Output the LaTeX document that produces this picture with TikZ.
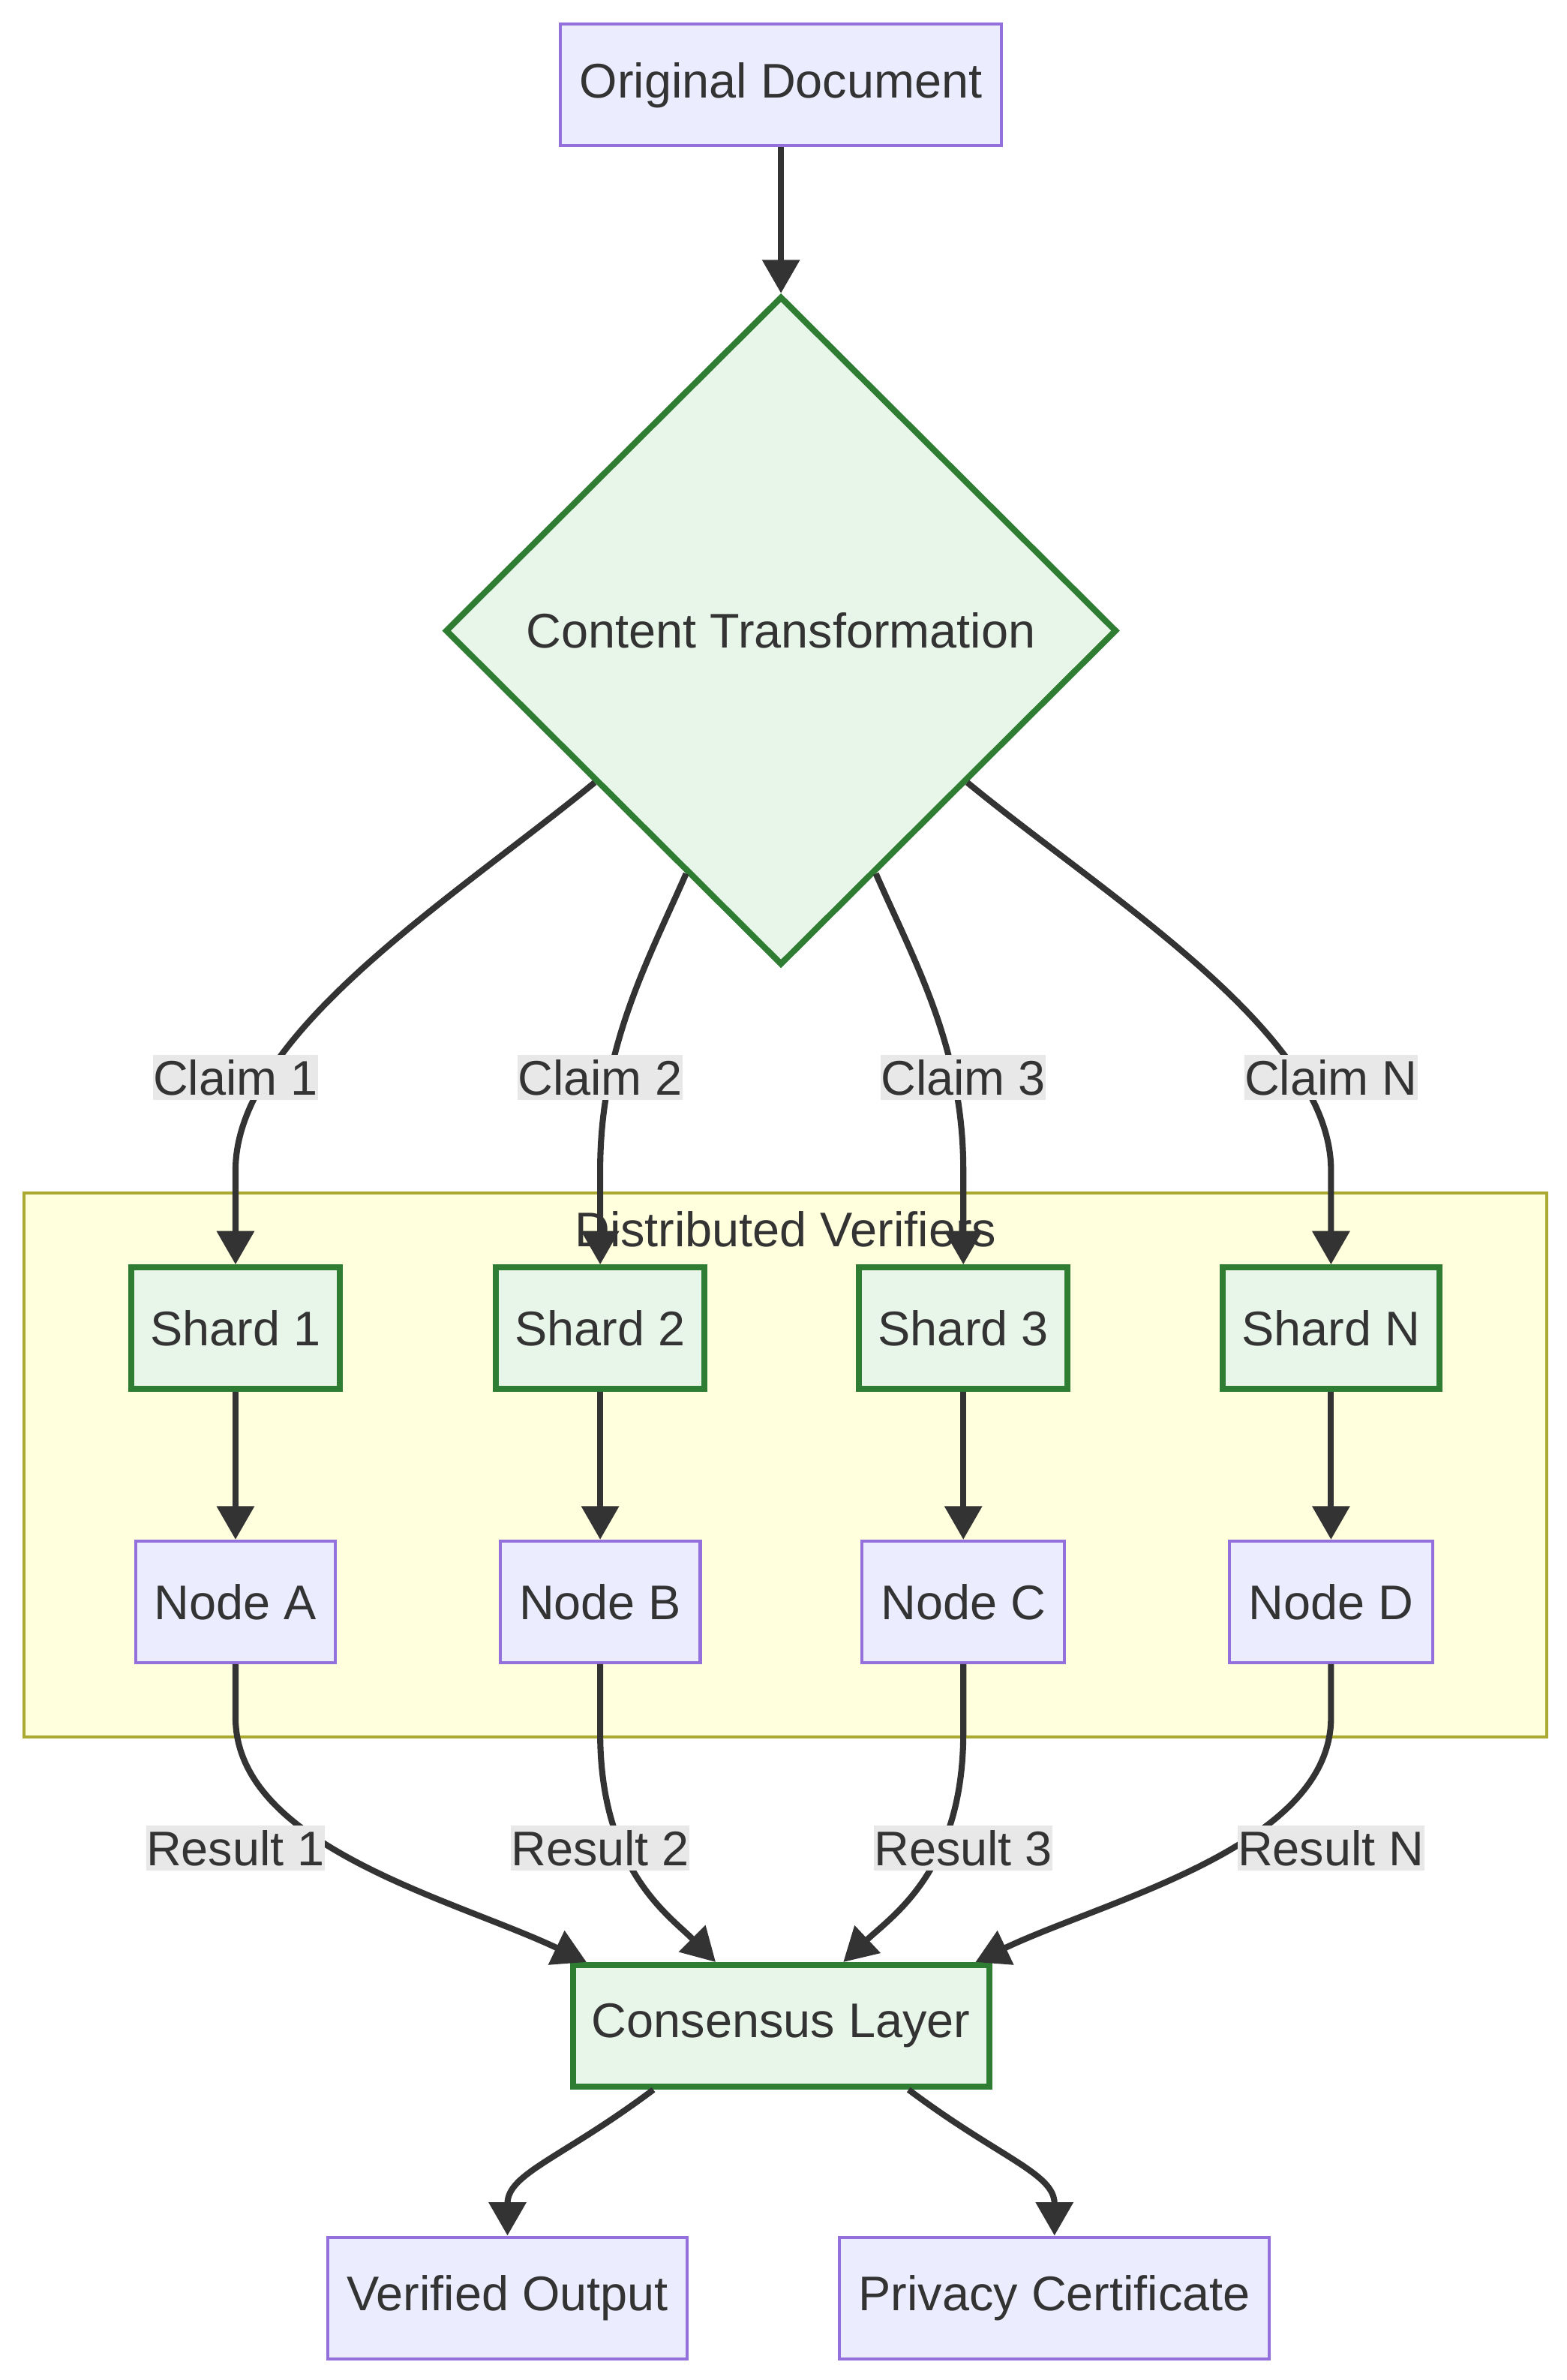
\documentclass[tikz,border=0pt]{standalone}
\usepackage{fontspec}
\setmainfont{Liberation Sans}
\usetikzlibrary{shapes.geometric,arrows.meta,calc}
\definecolor{purplefill}{HTML}{ECECFF}
\definecolor{purpleline}{HTML}{9370DB}
\definecolor{greenfill}{HTML}{E8F5E9}
\definecolor{greenline}{HTML}{2E7D32}
\definecolor{clusterfill}{HTML}{FFFFDE}
\definecolor{clusterline}{HTML}{AAAA33}
\definecolor{ink}{HTML}{333333}
\definecolor{lblgray}{HTML}{E8E8E8}
\begin{document}
\begin{tikzpicture}[x=0.5pt, y=-0.5pt,
  every node/.style={font=\fontsize{16}{19}\selectfont, text=ink},
  basebox/.style={draw=purpleline, fill=purplefill, line width=1pt, minimum height=40pt, inner xsep=6.25pt, inner ysep=0pt},
  shardbox/.style={draw=greenline, fill=greenfill, line width=2pt, minimum height=40pt, inner xsep=6.25pt, inner ysep=0pt},
  lbl/.style={fill=lblgray, inner xsep=0pt, inner ysep=1.5pt},
  flow/.style={draw=ink, line width=2pt, -{Triangle[length=11pt,width=12pt]}}]
\useasboundingbox (0,0) rectangle (1031,1566);
\draw[draw=clusterline, fill=clusterfill, line width=1pt] (16,785) rectangle (1018,1143);
\node (vtitle) at (517,809) {Distributed Verifiers};

\node[basebox] (doc) at (514,56) {Original Document};
\node[diamond, aspect=1, draw=greenline, fill=greenfill, line width=2pt, minimum width=221pt, minimum height=220pt, inner sep=0pt] (trans) at (514,415) {Content Transformation};
\node[shardbox] (shard1) at (155,874) {Shard 1};
\node[shardbox] (shard2) at (395,874) {Shard 2};
\node[shardbox] (shard3) at (634,874) {Shard 3};
\node[shardbox] (shardN) at (876,874) {Shard N};
\node[basebox] (nodeA) at (155,1054) {Node A};
\node[basebox] (nodeB) at (395,1054) {Node B};
\node[basebox] (nodeC) at (634,1054) {Node C};
\node[basebox] (nodeD) at (876,1054) {Node D};
\node[shardbox] (cons) at (514,1333) {Consensus Layer};
\node[basebox] (out) at (334,1512) {Verified Output};
\node[basebox] (cert) at (694,1512) {Privacy Certificate};

\draw[flow] (doc) -- (trans);
\draw[flow] ($(trans.west)!0.45!(trans.south)$) .. controls (300,590) and (155,680) .. (155,770) -- (shard1.north);
\draw[flow] ($(trans.west)!0.72!(trans.south)$) .. controls (425,635) and (395,690) .. (395,770) -- (shard2.north);
\draw[flow] ($(trans.east)!0.72!(trans.south)$) .. controls (603,635) and (634,690) .. (634,770) -- (shard3.north);
\draw[flow] ($(trans.east)!0.45!(trans.south)$) .. controls (728,590) and (876,680) .. (876,770) -- (shardN.north);
\draw[flow] (shard1) -- (nodeA);
\draw[flow] (shard2) -- (nodeB);
\draw[flow] (shard3) -- (nodeC);
\draw[flow] (shardN) -- (nodeD);
\draw[flow] (nodeA.south) -- (155,1130) .. controls (155,1215) and (300,1250) .. ($(cons.north)+(-128,0)$);
\draw[flow] (nodeB.south) -- (395,1140) .. controls (395,1230) and (440,1260) .. ($(cons.north)+(-43,0)$);
\draw[flow] (nodeC.south) -- (634,1140) .. controls (634,1230) and (588,1260) .. ($(cons.north)+(41,0)$);
\draw[flow] (nodeD.south) -- (876,1130) .. controls (876,1215) and (728,1250) .. ($(cons.north)+(128,0)$);
\draw[flow] ($(cons.south)+(-84,0)$) .. controls (370,1420) and (334,1430) .. (out.north);
\draw[flow] ($(cons.south)+(84,0)$) .. controls (658,1420) and (694,1430) .. (cert.north);

\node[lbl] (claim1) at (155,709) {Claim 1};
\node[lbl] (claim2) at (395,709) {Claim 2};
\node[lbl] (claim3) at (634,709) {Claim 3};
\node[lbl] (claimN) at (876,709) {Claim N};
\node[lbl] (result1) at (155,1216) {Result 1};
\node[lbl] (result2) at (395,1216) {Result 2};
\node[lbl] (result3) at (634,1216) {Result 3};
\node[lbl] (resultN) at (876,1216) {Result N};
\end{tikzpicture}
\end{document}
